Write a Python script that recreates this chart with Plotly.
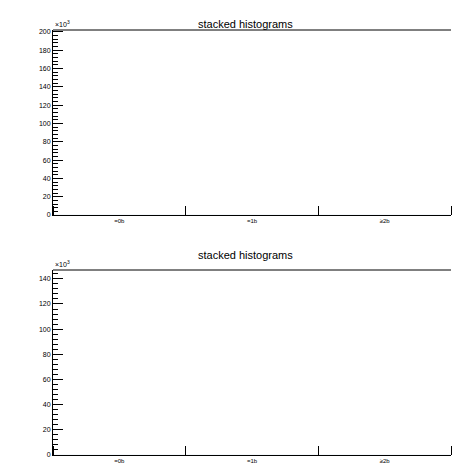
import plotly.graph_objects as go

categories = ["=0b", "=1b", "\u22652b"]
positions = [0.5, 1.5, 2.5]
values_top = [0, 0, 0]
values_bottom = [0, 0, 0]
ymax_top = 202
ymax_bottom = 147
title = "stacked histograms"

fig = go.Figure()
fig.add_trace(go.Bar(x=positions, y=values_top, xaxis="x", yaxis="y", width=1, marker_color="#999", showlegend=False))
fig.add_trace(go.Bar(x=positions, y=values_bottom, xaxis="x2", yaxis="y2", width=1, marker_color="#999", showlegend=False))

font = dict(family="Liberation Sans, Arial", color="black")
xd = [45/474, 443/474]
doms = [[1-207/468, 1-22/468], [1-447/468, 1-262/468]]

def xax(anchor):
    return dict(domain=xd, anchor=anchor, range=[0, 3], tickmode="array", tickvals=positions,
                ticktext=categories, ticks="", ticklen=0, showgrid=False, zeroline=False,
                showline=True, linecolor="black", linewidth=1, automargin=False,
                tickfont=dict(size=6, **font),
                minor=dict(tickmode="linear", tick0=0, dtick=1, ticks="inside", ticklen=9,
                           tickcolor="black", showgrid=False))

def yax(anchor, dom, top):
    return dict(domain=dom, anchor=anchor, range=[0, top], tickmode="linear", tick0=0, dtick=20,
                ticks="inside", ticklen=10, tickcolor="black", showgrid=False, zeroline=False,
                showline=True, linecolor="black", linewidth=1, automargin=False,
                tickfont=dict(size=7, **font),
                minor=dict(dtick=4, ticks="inside", ticklen=5, tickcolor="black", showgrid=False))

fig.update_layout(
    width=474, height=468, margin=dict(l=0, r=0, t=0, b=0, autoexpand=False),
    paper_bgcolor="white", plot_bgcolor="white",
    xaxis=xax("y"), yaxis=yax("x", doms[0], ymax_top),
    xaxis2=xax("y2"), yaxis2=yax("x2", doms[1], ymax_bottom),
    shapes=[
        dict(type="line", xref="x domain", yref="y domain", x0=0, x1=1, y0=1, y1=1, line=dict(color="black", width=1)),
        dict(type="line", xref="x2 domain", yref="y2 domain", x0=0, x1=1, y0=1, y1=1, line=dict(color="black", width=1)),
    ],
    annotations=[
        dict(text=title, x=0.5, y=1-8/468, xref="paper", yref="paper", showarrow=False, font=dict(size=11, **font)),
        dict(text=title, x=0.5, y=1-247/468, xref="paper", yref="paper", showarrow=False, font=dict(size=11, **font)),
        dict(text="\u00d710<sup>3</sup>", x=xd[0], y=doms[0][1], xref="paper", yref="paper", xanchor="left", yanchor="bottom", showarrow=False, font=dict(size=7, **font)),
        dict(text="\u00d710<sup>3</sup>", x=xd[0], y=doms[1][1], xref="paper", yref="paper", xanchor="left", yanchor="bottom", showarrow=False, font=dict(size=7, **font)),
    ],
)
fig.write_html("out.html")
